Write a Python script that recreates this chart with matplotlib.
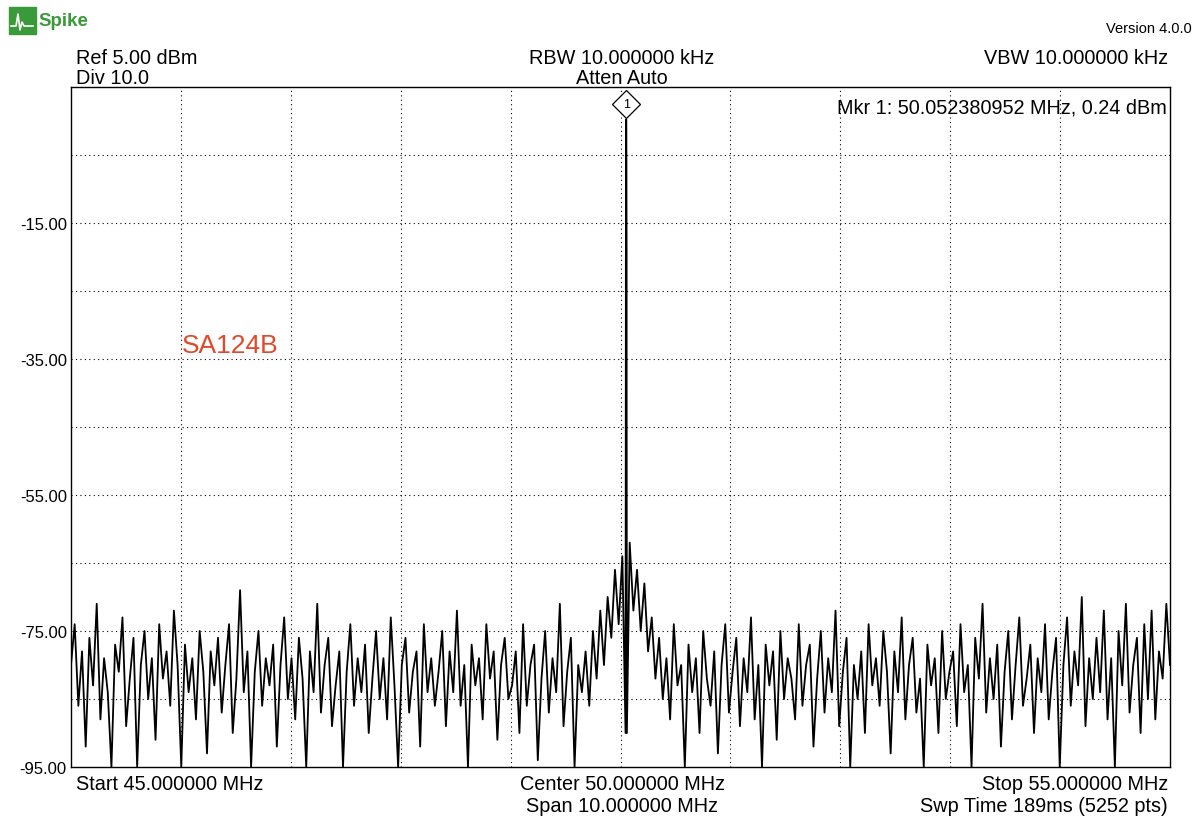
import matplotlib
matplotlib.use("Agg")
import matplotlib.pyplot as plt
import numpy as np
from matplotlib.patches import Rectangle

plt.rcParams['font.family'] = ['Liberation Sans', 'DejaVu Sans']

# trace (dBm), evenly spaced from 45 to 55 MHz
noise_level = [
    -80, -74, -86, -78, -92, -76, -83, -71, -88, -79, -84, -95, -77, -81, -73, -89, -82, -76, -95, -80,
    -75, -85, -79, -91, -74, -82, -78, -86, -72, -80, -95, -77, -84, -79, -88, -75, -81, -93, -78, -83,
    -76, -87, -80, -74, -90, -82, -69, -84, -78, -95, -81, -75, -86, -79, -83, -77, -92, -80, -73, -85,
    -79, -88, -76, -82, -95, -78, -84, -71, -87, -80, -76, -89, -83, -78, -95, -81, -74, -86, -79, -84,
    -77, -90, -82, -75, -85, -79, -88, -73, -83, -95, -80, -76, -87, -81, -78, -92, -74, -84, -79, -86,
    -81, -75, -89, -78, -84, -72, -86, -80, -95, -77, -83, -79, -88, -74, -82, -78, -91, -80, -76, -85,
    -83, -78, -90, -74, -86, -80, -77, -94, -82, -75, -87, -79, -84, -71, -89, -81, -76, -95, -80, -84,
    -78, -86, -75, -82, -72, -80, -70, -76, -66, -74, -64, -69, -62, -72, -66, -75, -68, -78, -73, -82,
    -76, -85, -79, -88, -74, -83, -80, -95, -77, -84, -79, -90, -75, -82, -86, -78, -93, -80, -74, -87,
    -81, -76, -89, -79, -84, -73, -88, -80, -95, -77, -83, -78, -91, -75, -85, -79, -82, -88, -74, -86,
    -80, -77, -92, -82, -75, -87, -79, -84, -72, -89, -81, -76, -95, -80, -85, -78, -90, -74, -83, -79,
    -86, -75, -81, -93, -78, -84, -73, -88, -80, -76, -87, -82, -95, -77, -83, -79, -90, -75, -85, -81,
    -78, -89, -74, -84, -80, -95, -76, -82, -71, -87, -79, -85, -77, -92, -81, -75, -88, -80, -73, -86,
    -82, -77, -90, -79, -84, -74, -88, -81, -76, -95, -80, -73, -86, -78, -83, -70, -89, -79, -85, -76,
    -84, -72, -88, -79, -95, -75, -83, -71, -87, -80, -76, -90, -74, -85, -72, -88, -78, -82, -71, -80,
]
peak_freq = [50.046, 50.049, 50.052, 50.055, 50.058]
peak_level = [-90, -20, 0.24, -20, -90]
mkr_freq = 50.052380952
mkr_level = 0.24

start_mhz, stop_mhz = 45.0, 55.0
ref_level, div = 5.0, 10.0
ytick_vals = [-15, -35, -55, -75, -95]

noise_freq = np.linspace(start_mhz, stop_mhz, len(noise_level))
freq = np.concatenate([noise_freq, peak_freq])
level = np.concatenate([noise_level, peak_level])
order = np.argsort(freq, kind='stable')
freq, level = freq[order], level[order]

fig = plt.figure(figsize=(11.97, 8.2), dpi=100)
ax = fig.add_axes([71 / 1197, 52 / 820, 1099 / 1197, 680 / 820])
ax.plot(freq, level, color='black', lw=1.3)
ax.set_xlim(start_mhz, stop_mhz)
ax.set_ylim(ref_level - 10 * div, ref_level)

for x in np.linspace(start_mhz, stop_mhz, 11)[1:-1]:
    ax.axvline(x, color='black', ls=(0, (1, 3)), lw=0.8)
for y in np.arange(ref_level - 9 * div, ref_level, div):
    ax.axhline(y, color='black', ls=(0, (1, 3)), lw=0.8)
ax.set_xticks([])
ax.set_yticks(ytick_vals)
ax.set_yticklabels([f"{v:.2f}" for v in ytick_vals], fontsize=12)
ax.tick_params(axis='y', length=0, pad=3)
for s in ax.spines.values():
    s.set_linewidth(1.0)

# marker
ax.plot(mkr_freq, 2.5, marker='D', ms=14, mfc='white', mec='black', mew=0.9, clip_on=False)
ax.text(mkr_freq, 2.5, '1', ha='center', va='center', fontsize=9)
ax.text(0.997, 0.985, 'Mkr 1: 50.052380952 MHz, 0.24 dBm', transform=ax.transAxes,
        ha='right', va='top', fontsize=14.3)
ax.text(0.101, 0.62, 'SA124B', transform=ax.transAxes, color='#e04a2a', fontsize=19, va='center')

fs = 14.3
fig.text(76 / 1197, 1 - 58 / 820, 'Ref 5.00 dBm', fontsize=fs, va='center')
fig.text(76 / 1197, 1 - 78 / 820, 'Div 10.0', fontsize=fs, va='center')
fig.text(622 / 1197, 1 - 58 / 820, 'RBW 10.000000 kHz', fontsize=fs, va='center', ha='center')
fig.text(622 / 1197, 1 - 78 / 820, 'Atten Auto', fontsize=fs, va='center', ha='center')
fig.text(1168 / 1197, 1 - 58 / 820, 'VBW 10.000000 kHz', fontsize=fs, va='center', ha='right')
fig.text(1192 / 1197, 1 - 29 / 820, 'Version 4.0.0', fontsize=10.5, va='center', ha='right')
fig.text(76 / 1197, 1 - 785 / 820, 'Start 45.000000 MHz', fontsize=fs, va='center')
fig.text(622 / 1197, 1 - 785 / 820, 'Center 50.000000 MHz', fontsize=fs, va='center', ha='center')
fig.text(622 / 1197, 1 - 807 / 820, 'Span 10.000000 MHz', fontsize=fs, va='center', ha='center')
fig.text(1168 / 1197, 1 - 785 / 820, 'Stop 55.000000 MHz', fontsize=fs, va='center', ha='right')
fig.text(1168 / 1197, 1 - 807 / 820, 'Swp Time 189ms (5252 pts)', fontsize=fs, va='center', ha='right')

# Spike logo
fig.patches.append(Rectangle((9 / 1197, 1 - 35 / 820), 27 / 1197, 27 / 820,
                             transform=fig.transFigure, color='#3a9a3a'))
fig.lines.append(plt.Line2D(np.array([11, 16, 18, 20, 22, 24, 26, 33]) / 1197,
                            1 - np.array([27, 27, 15, 31, 23, 27, 27, 27]) / 820,
                            transform=fig.transFigure, color='white', lw=1.2))
fig.text(38 / 1197, 1 - 21 / 820, 'Spike', fontsize=13.5, color='#3a9a3a',
         weight='bold', va='center')

fig.savefig('out.png', dpi=100)
